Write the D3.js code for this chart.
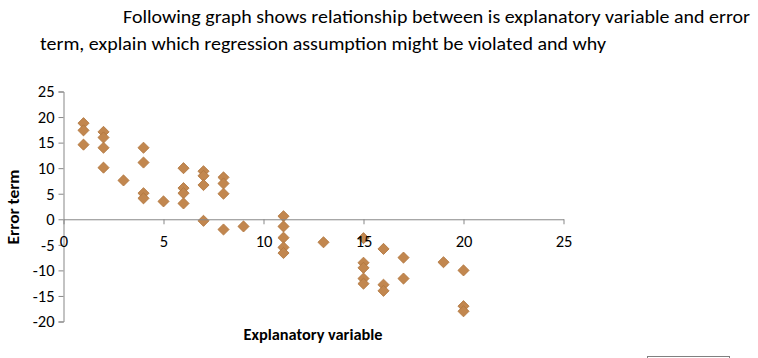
<!DOCTYPE html>
<html>
<head>
<meta charset="utf-8">
<script src="https://cdn.jsdelivr.net/npm/d3@7"></script>
<style>
  html, body { margin: 0; padding: 0; background: #ffffff; }
  svg { display: block; }
  text { font-family: Carlito, Calibri, Lato, "Open Sans", sans-serif; }
</style>
</head>
<body>
<svg id="chart" width="758" height="358"></svg>
<script>
// ---- data ----
const titleLines = [
  "Following graph shows relationship between is explanatory variable and error",
  "term, explain which regression assumption might be violated and why"
];
const xAxisTitle = "Explanatory variable";
const yAxisTitle = "Error term";
const xTicks = [0, 5, 10, 15, 20, 25];
const yTicks = [-20, -15, -10, -5, 0, 5, 10, 15, 20, 25];
const explanatory = [
  1, 1, 1,
  2, 2, 2, 2,
  3,
  4, 4, 4, 4,
  5,
  6, 6, 6, 6,
  7, 7, 7, 7,
  8, 8, 8, 8,
  9,
  11, 11, 11, 11, 11,
  13,
  15, 15, 15, 15, 15,
  16, 16, 16,
  17, 17,
  19,
  20, 20, 20
];
const errorTerm = [
  18.8, 17.4, 14.6,
  17.1, 16.0, 14.0, 10.1,
  7.6,
  14.0, 11.1, 5.1, 4.1,
  3.5,
  10.0, 6.1, 5.1, 3.1,
  9.4, 8.5, 6.7, -0.3,
  8.2, 7.0, 5.0, -2.0,
  -1.4,
  0.6, -1.4, -3.6, -5.5, -6.6,
  -4.5,
  -3.7, -8.5, -9.5, -11.6, -12.6,
  -5.8, -12.8, -14.0,
  -7.5, -11.6,
  -8.4,
  -10.0, -17.0, -18.0
];

// ---- layout ----
const svg = d3.select("#chart");
const x = d3.scaleLinear().domain([0, 25]).range([63.5, 563.5]);
const y = d3.scaleLinear().domain([-20, 25]).range([321.5, 91.5]);
const axisColor = "#878787";
const fontStack = "Carlito, Calibri, Lato, sans-serif";

// title
svg.append("text")
  .attr("x", 123).attr("y", 23)
  .attr("textLength", 627).attr("lengthAdjust", "spacingAndGlyphs")
  .attr("font-size", 18.5).attr("fill", "#000")
  .text(titleLines[0]);
svg.append("text")
  .attr("x", 40).attr("y", 50)
  .attr("textLength", 566).attr("lengthAdjust", "spacingAndGlyphs")
  .attr("font-size", 18.5).attr("fill", "#000")
  .text(titleLines[1]);

// points
const pts = explanatory.map((v, i) => ({ x: v, y: errorTerm[i] }));
const diamond = d3.symbol().type(d3.symbolSquare).size(62);
svg.append("g").selectAll("path")
  .data(pts)
  .join("path")
  .attr("d", diamond)
  .attr("transform", d => `translate(${x(d.x)},${y(d.y)}) rotate(45)`)
  .attr("fill", "#C2874F")
  .attr("stroke", "#B0763F")
  .attr("stroke-width", 0.8);

// y axis
const yAxis = d3.axisLeft(y).tickValues(yTicks).tickSize(5).tickPadding(4).tickFormat(d => String(d));
const gy = svg.append("g").attr("transform", `translate(${x(0)},0)`).call(yAxis);
gy.attr("font-size", 16.5).attr("font-family", fontStack);
gy.select(".domain").attr("stroke", axisColor);
gy.selectAll(".tick line").attr("stroke", axisColor);
gy.selectAll(".tick text").attr("fill", "#000");

// x axis (at y = 0)
const xAxis = d3.axisBottom(x).tickValues(xTicks).tickSize(5).tickSizeOuter(0).tickPadding(11).tickFormat(d => String(d));
const gx = svg.append("g").attr("transform", `translate(0,${y(0)})`).call(xAxis);
gx.attr("font-size", 16.5).attr("font-family", fontStack);
gx.select(".domain").attr("stroke", axisColor);
gx.selectAll(".tick line").attr("stroke", axisColor);
gx.selectAll(".tick text").attr("fill", "#000");

// axis titles
svg.append("text")
  .attr("x", 313).attr("y", 340)
  .attr("text-anchor", "middle")
  .attr("textLength", 139).attr("lengthAdjust", "spacingAndGlyphs")
  .attr("font-size", 16).attr("font-weight", "bold").attr("fill", "#000")
  .text(xAxisTitle);
svg.append("text")
  .attr("transform", "translate(19,207) rotate(-90)")
  .attr("text-anchor", "middle")
  .attr("textLength", 75).attr("lengthAdjust", "spacingAndGlyphs")
  .attr("font-size", 16).attr("font-weight", "bold").attr("fill", "#000")
  .text(yAxisTitle);

// small box at bottom right (partially visible)
svg.append("rect")
  .attr("x", 647.5).attr("y", 356.5)
  .attr("width", 82).attr("height", 20)
  .attr("fill", "none").attr("stroke", "#808080").attr("stroke-width", 1);
</script>
</body>
</html>
